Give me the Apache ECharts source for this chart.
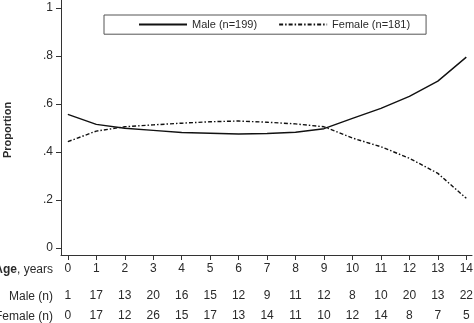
<!DOCTYPE html>
<html><head><meta charset="utf-8">
<script src="https://cdn.jsdelivr.net/npm/echarts@6/dist/echarts.min.js"></script>
<style>html,body{margin:0;padding:0;background:#fff}#c{width:474px;height:323px}</style>
</head><body><div id="c"></div>
<script>
var ages = [0,1,2,3,4,5,6,7,8,9,10,11,12,13,14];
var maleProp = [0.557,0.515,0.499,0.490,0.481,0.478,0.475,0.477,0.482,0.497,0.540,0.582,0.632,0.695,0.795];
var femaleProp = [0.443,0.487,0.505,0.513,0.520,0.526,0.529,0.524,0.517,0.505,0.458,0.422,0.374,0.311,0.207];
var maleN = [1,17,13,20,16,15,12,9,11,12,8,10,20,13,22];
var femaleN = [0,17,12,26,15,17,13,14,11,10,12,14,8,7,5];
var yTicks = [0,0.2,0.4,0.6,0.8,1];
var yTickLabels = ['0','.2','.4','.6','.8','1'];
var maleName = 'Male (n=199)';
var femaleName = 'Female (n=181)';

var FONT = 'Liberation Sans, Arial, Helvetica, sans-serif';
var TXT = '#2a2a2a';
var FS = 12;
var chart = echarts.init(document.getElementById('c'), null, {renderer:'canvas'});
function pair(xs, ys){ return xs.map(function(x,i){ return [x, ys[i]]; }); }
function rowAxis(offset, arr){
  return {
    type:'value', gridIndex:0, position:'bottom', offset:offset,
    min:-0.24, max:14.2,
    axisLine:{show:false}, axisTick:{show:false}, splitLine:{show:false},
    axisLabel:{customValues:ages, fontFamily:FONT, fontSize:FS, color:TXT, margin:8,
      formatter:function(v){ var i = ages.indexOf(Math.round(v)); return i>=0 ? String(arr[i]) : ''; }}
  };
}
var option = {
  animation:false,
  backgroundColor:'#fff',
  grid:{left:61, right:2, top:0, bottom:68, containLabel:false, outerBoundsMode:'none'},
  legend:{
    left:104, top:15,
    padding:[4,16,4,34],
    itemGap:21, itemWidth:48, itemHeight:14,
    borderColor:'#555', borderWidth:1,
    itemStyle:{opacity:0},
    textStyle:{fontFamily:FONT, fontSize:11, color:TXT},
    data:[maleName, femaleName]
  },
  xAxis:[
    {type:'value', gridIndex:0, position:'bottom', min:-0.24, max:14.2,
     axisLine:{show:true, onZero:false, lineStyle:{color:'#333', width:1}},
     axisTick:{show:true, customValues:ages, length:5, lineStyle:{color:'#333'}},
     splitLine:{show:false},
     axisLabel:{customValues:ages, fontFamily:FONT, fontSize:FS, color:TXT, margin:8}},
    rowAxis(27, maleN),
    rowAxis(47, femaleN)
  ],
  yAxis:{
    type:'value', min:-0.029, max:1.033,
    axisLine:{show:true, onZero:false, lineStyle:{color:'#333', width:1}},
    axisTick:{show:true, customValues:yTicks, length:5, lineStyle:{color:'#333'}},
    splitLine:{show:false},
    axisLabel:{customValues:yTicks, fontFamily:FONT, fontSize:FS, color:TXT, margin:8,
      formatter:function(v){ var i = yTicks.findIndex(function(t){return Math.abs(t-v)<1e-6;}); return i>=0 ? yTickLabels[i] : ''; }}
  },
  graphic:[
    {type:'text', x:8, y:130, rotation:Math.PI/2,
     style:{text:'Proportion', font:'bold 11px '+FONT, fill:TXT, align:'center', verticalAlign:'middle'}},
    {type:'text', x:53, y:270,
     style:{text:'{b|Age}, years', rich:{b:{fontWeight:'bold', fontSize:FS, fontFamily:FONT, fill:TXT}}, font:FS+'px '+FONT, fill:TXT, align:'right', verticalAlign:'middle'}},
    {type:'text', x:53, y:297,
     style:{text:'Male (n)', font:FS+'px '+FONT, fill:TXT, align:'right', verticalAlign:'middle'}},
    {type:'text', x:53, y:317,
     style:{text:'Female (n)', font:FS+'px '+FONT, fill:TXT, align:'right', verticalAlign:'middle'}}
  ],
  series:[
    {name:maleName, type:'line', xAxisIndex:0, symbol:'none', data:pair(ages, maleProp),
     lineStyle:{color:'#111', width:1.4, type:'solid'}, itemStyle:{color:'#111'}},
    {name:femaleName, type:'line', xAxisIndex:0, symbol:'none', data:pair(ages, femaleProp),
     lineStyle:{color:'#111', width:1.4, type:[4,2,1.5,2]}, itemStyle:{color:'#111'}}
  ]
};
chart.setOption(option);
</script></body></html>
